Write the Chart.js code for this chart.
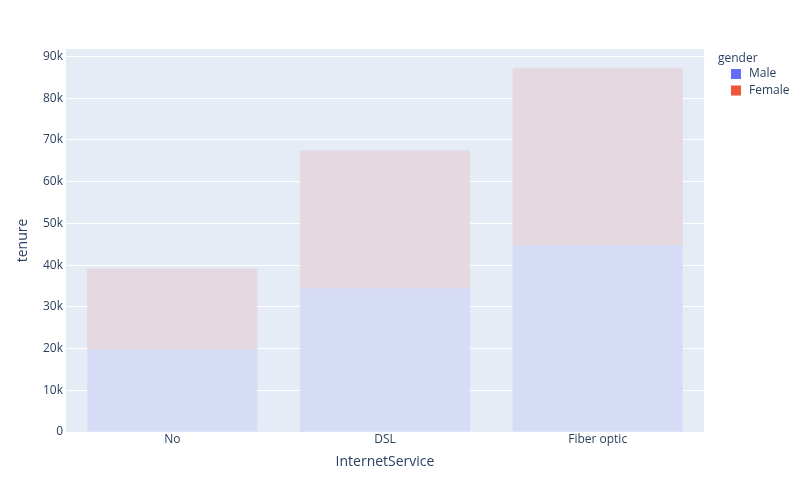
<!DOCTYPE html>
<html>
<head>
<meta charset="utf-8">
<script src="https://cdn.jsdelivr.net/npm/chart.js@4.4.1/dist/chart.umd.min.js"></script>
<style>
html,body{margin:0;padding:0;background:#fff;}
#wrap{position:relative;width:800px;height:497px;}
</style>
</head>
<body>
<div id="wrap"><canvas id="c" width="800" height="497"></canvas></div>
<script>
const categories = ["No", "DSL", "Fiber optic"];
const maleTenure = [19800, 34400, 44800];
const femaleTenure = [19400, 33100, 42400];
const yTicks = [0, 10000, 20000, 30000, 40000, 50000, 60000, 70000, 80000, 90000];
const seriesNames = ["Male", "Female"];
const legendTitle = "gender";
const xTitle = "InternetService";
const yTitle = "tenure";

const FONT = "'Open Sans', verdana, arial, sans-serif";
const TXT = "#2a3f5f";
const legendColors = ["#636efa", "#EF553B"];
const barColors = ["#d6dcf5", "#e5d8e0"];

const bgPlugin = {
  id: 'plotbg',
  beforeDraw(chart) {
    const {ctx, chartArea: a} = chart;
    ctx.save();
    ctx.fillStyle = '#E5ECF6';
    ctx.fillRect(a.left, a.top, a.right - a.left, a.bottom - a.top);
    ctx.restore();
  }
};
const legendPlugin = {
  id: 'plotlegend',
  afterDraw(chart) {
    const ctx = chart.ctx;
    ctx.save();
    ctx.font = "12px " + FONT;
    ctx.fillStyle = TXT;
    ctx.textBaseline = 'middle';
    ctx.textAlign = 'left';
    ctx.fillText(legendTitle, 718, 59);
    seriesNames.forEach((n, i) => {
      const cy = 74 + i * 16.5;
      ctx.fillStyle = legendColors[i];
      ctx.fillRect(731, cy - 5, 10, 10);
      ctx.fillStyle = TXT;
      ctx.fillText(n, 749, cy);
    });
    ctx.restore();
  }
};

new Chart(document.getElementById('c'), {
  type: 'bar',
  data: {
    labels: categories,
    datasets: [
      {label: seriesNames[0], data: maleTenure, backgroundColor: barColors[0], borderWidth: 0},
      {label: seriesNames[1], data: femaleTenure, backgroundColor: barColors[1], borderWidth: 0}
    ]
  },
  options: {
    responsive: false,
    animation: false,
    devicePixelRatio: 1,
    layout: {padding: {top: 49, right: 96, bottom: 27, left: 0}},
    plugins: {legend: {display: false}, tooltip: {enabled: false}},
    datasets: {bar: {barPercentage: 0.8, categoryPercentage: 1.0}},
    scales: {
      x: {
        stacked: true,
        grid: {display: false, drawTicks: false},
        border: {display: false},
        ticks: {color: TXT, font: {family: FONT, size: 12}, padding: 0, maxRotation: 0},
        title: {display: true, text: xTitle, color: TXT, font: {family: FONT, size: 14}, padding: {top: 0, bottom: 0}},
        afterFit(s) { s.height = 38; }
      },
      y: {
        stacked: true,
        min: 0,
        max: 91800,
        afterBuildTicks(s) { s.ticks = yTicks.map(v => ({value: v})); },
        grid: {color: '#ffffff', lineWidth: 1, drawTicks: false},
        border: {display: false},
        ticks: {color: TXT, font: {family: FONT, size: 12}, padding: 3,
          callback: v => v === 0 ? '0' : (v / 1000) + 'k'},
        title: {display: true, text: yTitle, color: TXT, font: {family: FONT, size: 14}, padding: {top: 15, bottom: 0}},
        afterFit(s) { s.width = 66; }
      }
    }
  },
  plugins: [bgPlugin, legendPlugin]
});
</script>
</body>
</html>
